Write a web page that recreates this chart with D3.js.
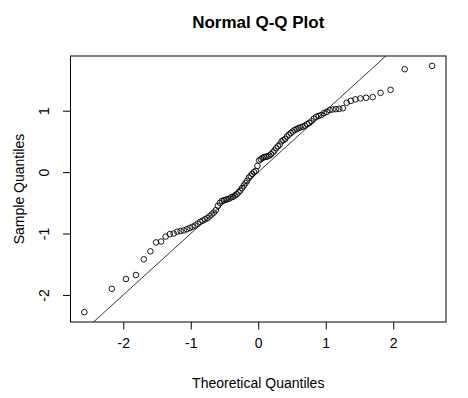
<!DOCTYPE html>
<html>
<head>
<meta charset="utf-8">
<script src="https://cdn.jsdelivr.net/npm/d3@7"></script>
<style>
	body { margin: 0; background: #ffffff; }
	svg text { font-family: "Liberation Sans", Arial, sans-serif; fill: #000000; }
</style>
</head>
<body>
<div id="chart"></div>
<script>
// sorted sample values (n = 100)
var sampleQuantiles = [
	-2.28, -1.90, -1.74, -1.675, -1.42, -1.29, -1.145, -1.13, -1.05, -1.01,
	-1.00, -0.97, -0.96, -0.95, -0.93, -0.91, -0.89, -0.87, -0.84, -0.81,
	-0.79, -0.77, -0.75, -0.72, -0.69, -0.66, -0.62, -0.55, -0.50, -0.47,
	-0.46, -0.45, -0.44, -0.43, -0.41, -0.40, -0.38, -0.36, -0.33, -0.30,
	-0.26, -0.22, -0.18, -0.14, -0.09, -0.06, -0.03, 0.00, 0.02, 0.10,
	0.19, 0.21, 0.23, 0.245, 0.25, 0.255, 0.27, 0.29, 0.32, 0.35,
	0.39, 0.42, 0.45, 0.50, 0.52, 0.54, 0.58, 0.61, 0.635, 0.66,
	0.685, 0.70, 0.715, 0.73, 0.74, 0.755, 0.78, 0.80, 0.83, 0.87,
	0.90, 0.915, 0.93, 0.96, 0.98, 1.01, 1.02, 1.025, 1.03, 1.04,
	1.13, 1.16, 1.185, 1.20, 1.21, 1.22, 1.29, 1.34, 1.675, 1.73
];
var xTicks = [-2, -1, 0, 1, 2];
var yTicks = [-2, -1, 0, 1];
// reference line y = a + b * x
var refLine = [0, 1];
var title = "Normal Q-Q Plot";
var xTitle = "Theoretical Quantiles";
var yTitle = "Sample Quantiles";

// inverse normal cdf (Acklam), used for the theoretical quantiles
function qnorm(p) {
	var a = [-39.69683028665376, 220.9460984245205, -275.9285104469687, 138.3577518672690, -30.66479806614716, 2.506628277459239];
	var b = [-54.47609879822406, 161.5858368580409, -155.6989798598866, 66.80131188771972, -13.28068155288572];
	var c = [-0.007784894002430293, -0.3223964580411365, -2.400758277161838, -2.549732539343734, 4.374664141464968, 2.938163982698783];
	var d = [0.007784695709041462, 0.3224671290700398, 2.445134137142996, 3.754408661907416];
	var q, r;
	if(p < 0.02425) {
		q = Math.sqrt(-2 * Math.log(p));
		return (((((c[0]*q+c[1])*q+c[2])*q+c[3])*q+c[4])*q+c[5]) / ((((d[0]*q+d[1])*q+d[2])*q+d[3])*q+1);
	}
	if(p > 1 - 0.02425) {
		q = Math.sqrt(-2 * Math.log(1 - p));
		return -(((((c[0]*q+c[1])*q+c[2])*q+c[3])*q+c[4])*q+c[5]) / ((((d[0]*q+d[1])*q+d[2])*q+d[3])*q+1);
	}
	q = p - 0.5;
	r = q * q;
	return (((((a[0]*r+a[1])*r+a[2])*r+a[3])*r+a[4])*r+a[5])*q / (((((b[0]*r+b[1])*r+b[2])*r+b[3])*r+b[4])*r+1);
}

var n = sampleQuantiles.length;
var points = sampleQuantiles.map(function(v, i) {
	return { x: qnorm((i + 1 - 0.5) / n), y: v };
});

var width = 468, height = 398;
var plot = { left: 70.5, right: 446, top: 56, bottom: 322 };

// R style 4% padding on both ranges
function padded(ext) {
	var pad = (ext[1] - ext[0]) * 0.04;
	return [ext[0] - pad, ext[1] + pad];
}
var x = d3.scaleLinear()
	.domain(padded(d3.extent(points, function(d) { return d.x; })))
	.range([plot.left, plot.right]);
var y = d3.scaleLinear()
	.domain(padded(d3.extent(points, function(d) { return d.y; })))
	.range([plot.bottom, plot.top]);

// plain hyphen for negatives, like R
function fmt(d) { return String(d); }

var svg = d3.select("#chart").append("svg")
	.attr("width", width)
	.attr("height", height);

svg.append("defs").append("clipPath")
	.attr("id", "plotclip")
	.append("rect")
	.attr("x", plot.left)
	.attr("y", plot.top)
	.attr("width", plot.right - plot.left)
	.attr("height", plot.bottom - plot.top);

// reference line
var xd = x.domain();
svg.append("line")
	.attr("clip-path", "url(#plotclip)")
	.attr("x1", x(xd[0]))
	.attr("y1", y(refLine[0] + refLine[1] * xd[0]))
	.attr("x2", x(xd[1]))
	.attr("y2", y(refLine[0] + refLine[1] * xd[1]))
	.attr("stroke", "#000")
	.attr("stroke-width", 0.8);

// points
svg.append("g")
	.selectAll("circle")
	.data(points)
	.enter()
	.append("circle")
	.attr("cx", function(d) { return x(d.x); })
	.attr("cy", function(d) { return y(d.y); })
	.attr("r", 2.8)
	.attr("fill", "none")
	.attr("stroke", "#000")
	.attr("stroke-width", 0.9);

// box
svg.append("rect")
	.attr("x", plot.left)
	.attr("y", plot.top)
	.attr("width", plot.right - plot.left)
	.attr("height", plot.bottom - plot.top)
	.attr("fill", "none")
	.attr("stroke", "#000")
	.attr("stroke-width", 1);

// axes
var xAxis = svg.append("g")
	.attr("transform", "translate(0," + plot.bottom + ")")
	.call(d3.axisBottom(x).tickValues(xTicks).tickSize(7.5).tickPadding(9).tickFormat(fmt));
xAxis.select(".domain").remove();
xAxis.selectAll("text")
	.style("font-size", "14px")
	.attr("fill", "#000");

var yAxis = svg.append("g")
	.attr("transform", "translate(" + plot.left + ",0)")
	.call(d3.axisLeft(y).tickValues(yTicks).tickSize(7.5).tickFormat(fmt));
yAxis.select(".domain").remove();
yAxis.selectAll("text")
	.style("font-size", "14px")
	.attr("fill", "#000")
	.attr("x", null)
	.attr("dy", null)
	.attr("text-anchor", "middle")
	.attr("transform", "translate(-22,0) rotate(-90)");

// titles
svg.append("text")
	.attr("x", (plot.left + plot.right) / 2)
	.attr("y", 27.5)
	.attr("text-anchor", "middle")
	.style("font-size", "17px")
	.style("font-weight", "bold")
	.text(title);

svg.append("text")
	.attr("x", (plot.left + plot.right) / 2)
	.attr("y", 388)
	.attr("text-anchor", "middle")
	.style("font-size", "14px")
	.text(xTitle);

svg.append("text")
	.attr("transform", "translate(24," + (plot.top + plot.bottom) / 2 + ") rotate(-90)")
	.attr("text-anchor", "middle")
	.style("font-size", "14px")
	.text(yTitle);
</script>
</body>
</html>
